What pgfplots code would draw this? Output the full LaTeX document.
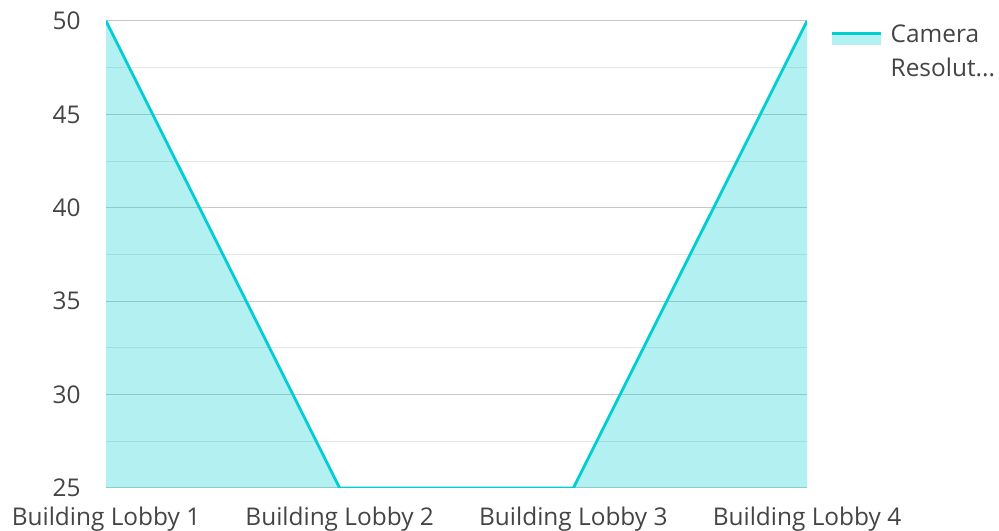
\documentclass[border=0pt]{standalone}
\usepackage{pgfplots}
\pgfplotsset{compat=1.18}
\usepackage{fontspec}
\setmainfont{Open Sans}
\definecolor{lineC}{HTML}{00CED1}
\definecolor{fillC}{HTML}{B2F0F1}
\definecolor{majG}{HTML}{C8C8C8}
\definecolor{minG}{HTML}{E6E6E6}
\definecolor{txt}{HTML}{444444}
\begin{document}
\begin{tikzpicture}[x=1bp,y=1bp]
\useasboundingbox (0,0) rectangle (999,531);
\begin{axis}[
  at={(106bp,43bp)}, anchor=south west,
  scale only axis, width=701bp, height=467bp,
  xmin=0, xmax=3, ymin=25, ymax=50,
  axis line style={draw=none},
  xtick={0,1,2,3},
  xticklabels={Building Lobby 1,Building Lobby 2,Building Lobby 3,Building Lobby 4},
  ytick={25,30,35,40,45,50},
  minor ytick={27.5,32.5,37.5,42.5,47.5},
  ymajorgrids, yminorgrids,
  major grid style={majG, line width=1bp},
  minor grid style={minG, line width=1bp},
  major tick length=0pt, minor tick length=0pt,
  tick style={draw=none},
  ticklabel style={font=\fontsize{24.5}{28}\selectfont, text=txt},
  /pgf/number format/assume math mode=true,
  yticklabel style={xshift=-22bp},
  xticklabel style={yshift=-15bp},
  legend style={draw=none, fill=none, at={(1,1)}, anchor=north west,
    xshift=20bp, yshift=0bp, font=\fontsize{24.5}{34}\selectfont, text=txt,
    nodes={align=left, anchor=west}, legend cell align=left},
  legend image code/.code={
    \path[draw=none, fill=none] (0bp,0bp) -- (57bp,0bp);
    \fill[fillC, draw=none, fill opacity=1] (0bp,16.5bp) rectangle (49bp,6.5bp);
    \draw[lineC, line width=3bp, draw opacity=1] (0bp,18bp) -- (49bp,18bp);
  },
]
\addplot[draw=none, fill=lineC, fill opacity=0.3, forget plot] coordinates {(0,50) (1,25) (2,25) (3,50)} \closedcycle;
\addplot[lineC, line width=2.8bp] coordinates {(0,50) (1,25) (2,25) (3,50)};
\addlegendentry{Camera\\Resolut...}
\end{axis}
\end{tikzpicture}
\end{document}
